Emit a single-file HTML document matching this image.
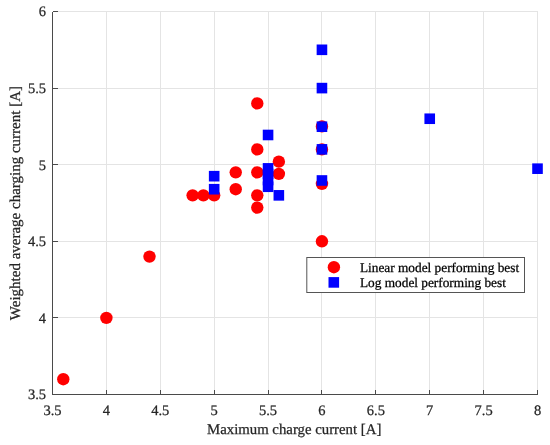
<!DOCTYPE html><html><head><meta charset="utf-8"><style>html,body{margin:0;padding:0;background:#fff;}svg{display:block;}text{font-family:"Liberation Serif",serif;fill:#262626;text-rendering:geometricPrecision;stroke:#262626;stroke-width:0.25px;}</style></head><body>
<svg width="550" height="445" viewBox="0 0 550 445">
<rect width="550" height="445" fill="#fff"/>
<path d="M106.5 11.5V394.5M160.5 11.5V394.5M214.5 11.5V394.5M268.5 11.5V394.5M321.5 11.5V394.5M375.5 11.5V394.5M429.5 11.5V394.5M483.5 11.5V394.5M537.5 11.5V394.5M52.5 317.5H537.5M52.5 241.5H537.5M52.5 164.5H537.5M52.5 88.5H537.5M52.5 11.5H537.5" stroke="#e4e4e4" stroke-width="1" fill="none" shape-rendering="crispEdges"/>
<circle cx="63.28" cy="379.18" r="6.20" fill="#f00"/>
<circle cx="106.39" cy="317.90" r="6.20" fill="#f00"/>
<circle cx="149.50" cy="256.62" r="6.20" fill="#f00"/>
<circle cx="192.61" cy="195.34" r="6.20" fill="#f00"/>
<circle cx="203.39" cy="195.34" r="6.20" fill="#f00"/>
<circle cx="214.17" cy="195.34" r="6.20" fill="#f00"/>
<circle cx="235.73" cy="172.36" r="6.20" fill="#f00"/>
<circle cx="235.73" cy="189.21" r="6.20" fill="#f00"/>
<circle cx="257.28" cy="103.42" r="6.20" fill="#f00"/>
<circle cx="257.28" cy="149.38" r="6.20" fill="#f00"/>
<circle cx="257.28" cy="172.36" r="6.20" fill="#f00"/>
<circle cx="257.28" cy="195.34" r="6.20" fill="#f00"/>
<circle cx="257.28" cy="207.60" r="6.20" fill="#f00"/>
<circle cx="278.84" cy="161.64" r="6.20" fill="#f00"/>
<circle cx="278.84" cy="173.89" r="6.20" fill="#f00"/>
<circle cx="321.95" cy="126.40" r="6.20" fill="#f00"/>
<circle cx="321.95" cy="149.38" r="6.20" fill="#f00"/>
<circle cx="321.95" cy="183.85" r="6.20" fill="#f00"/>
<circle cx="321.95" cy="241.30" r="6.20" fill="#f00"/>
<rect x="208.87" y="170.89" width="10.60" height="10.60" fill="#00f"/>
<rect x="208.87" y="183.91" width="10.60" height="10.60" fill="#00f"/>
<rect x="262.76" y="129.68" width="10.60" height="10.60" fill="#00f"/>
<rect x="262.76" y="163.08" width="10.60" height="10.60" fill="#00f"/>
<rect x="262.76" y="168.59" width="10.60" height="10.60" fill="#00f"/>
<rect x="262.76" y="174.72" width="10.60" height="10.60" fill="#00f"/>
<rect x="262.76" y="181.46" width="10.60" height="10.60" fill="#00f"/>
<rect x="273.54" y="190.04" width="10.60" height="10.60" fill="#00f"/>
<rect x="316.65" y="44.50" width="10.60" height="10.60" fill="#00f"/>
<rect x="316.65" y="82.80" width="10.60" height="10.60" fill="#00f"/>
<rect x="316.65" y="121.41" width="10.60" height="10.60" fill="#00f"/>
<rect x="316.65" y="144.08" width="10.60" height="10.60" fill="#00f"/>
<rect x="316.65" y="175.18" width="10.60" height="10.60" fill="#00f"/>
<rect x="424.43" y="113.44" width="10.60" height="10.60" fill="#00f"/>
<rect x="532.21" y="163.38" width="10.60" height="10.60" fill="#00f"/>
<path d="M52.5 11.5V394.5H537.5M52.5 394.5V389.5M106.5 394.5V389.5M160.5 394.5V389.5M214.5 394.5V389.5M268.5 394.5V389.5M321.5 394.5V389.5M375.5 394.5V389.5M429.5 394.5V389.5M483.5 394.5V389.5M537.5 394.5V389.5M52.5 394.5H57.5M52.5 317.5H57.5M52.5 241.5H57.5M52.5 164.5H57.5M52.5 88.5H57.5M52.5 11.5H57.5" stroke="#4a4a4a" stroke-width="1" fill="none" shape-rendering="crispEdges"/>
<text x="52.50" y="414.6" font-size="14.5" text-anchor="middle">3.5</text>
<text x="106.39" y="414.6" font-size="14.5" text-anchor="middle">4</text>
<text x="160.28" y="414.6" font-size="14.5" text-anchor="middle">4.5</text>
<text x="214.17" y="414.6" font-size="14.5" text-anchor="middle">5</text>
<text x="268.06" y="414.6" font-size="14.5" text-anchor="middle">5.5</text>
<text x="321.95" y="414.6" font-size="14.5" text-anchor="middle">6</text>
<text x="375.84" y="414.6" font-size="14.5" text-anchor="middle">6.5</text>
<text x="429.73" y="414.6" font-size="14.5" text-anchor="middle">7</text>
<text x="483.62" y="414.6" font-size="14.5" text-anchor="middle">7.5</text>
<text x="537.51" y="414.6" font-size="14.5" text-anchor="middle">8</text>
<text x="46" y="399.30" font-size="14.5" text-anchor="end">3.5</text>
<text x="46" y="322.70" font-size="14.5" text-anchor="end">4</text>
<text x="46" y="246.10" font-size="14.5" text-anchor="end">4.5</text>
<text x="46" y="169.50" font-size="14.5" text-anchor="end">5</text>
<text x="46" y="92.90" font-size="14.5" text-anchor="end">5.5</text>
<text x="46" y="16.30" font-size="14.5" text-anchor="end">6</text>
<text x="294.20" y="434" font-size="14.8" text-anchor="middle">Maximum charge current [A]</text>
<text transform="translate(19.5 203.10) rotate(-90)" font-size="15" text-anchor="middle">Weighted average charging current [A]</text>
<rect x="306.8" y="257.5" width="217.7" height="35" fill="#fff" stroke="#555" stroke-width="1"/>
<circle cx="333.9" cy="267.2" r="6.20" fill="#f00"/>
<rect x="328.50" y="277.10" width="10.60" height="10.60" fill="#00f"/>
<text x="360" y="271.8" font-size="13.3" style="fill:#000;stroke:#000">Linear model performing best</text>
<text x="360" y="287" font-size="13.3" style="fill:#000;stroke:#000">Log model performing best</text>
</svg></body></html>
